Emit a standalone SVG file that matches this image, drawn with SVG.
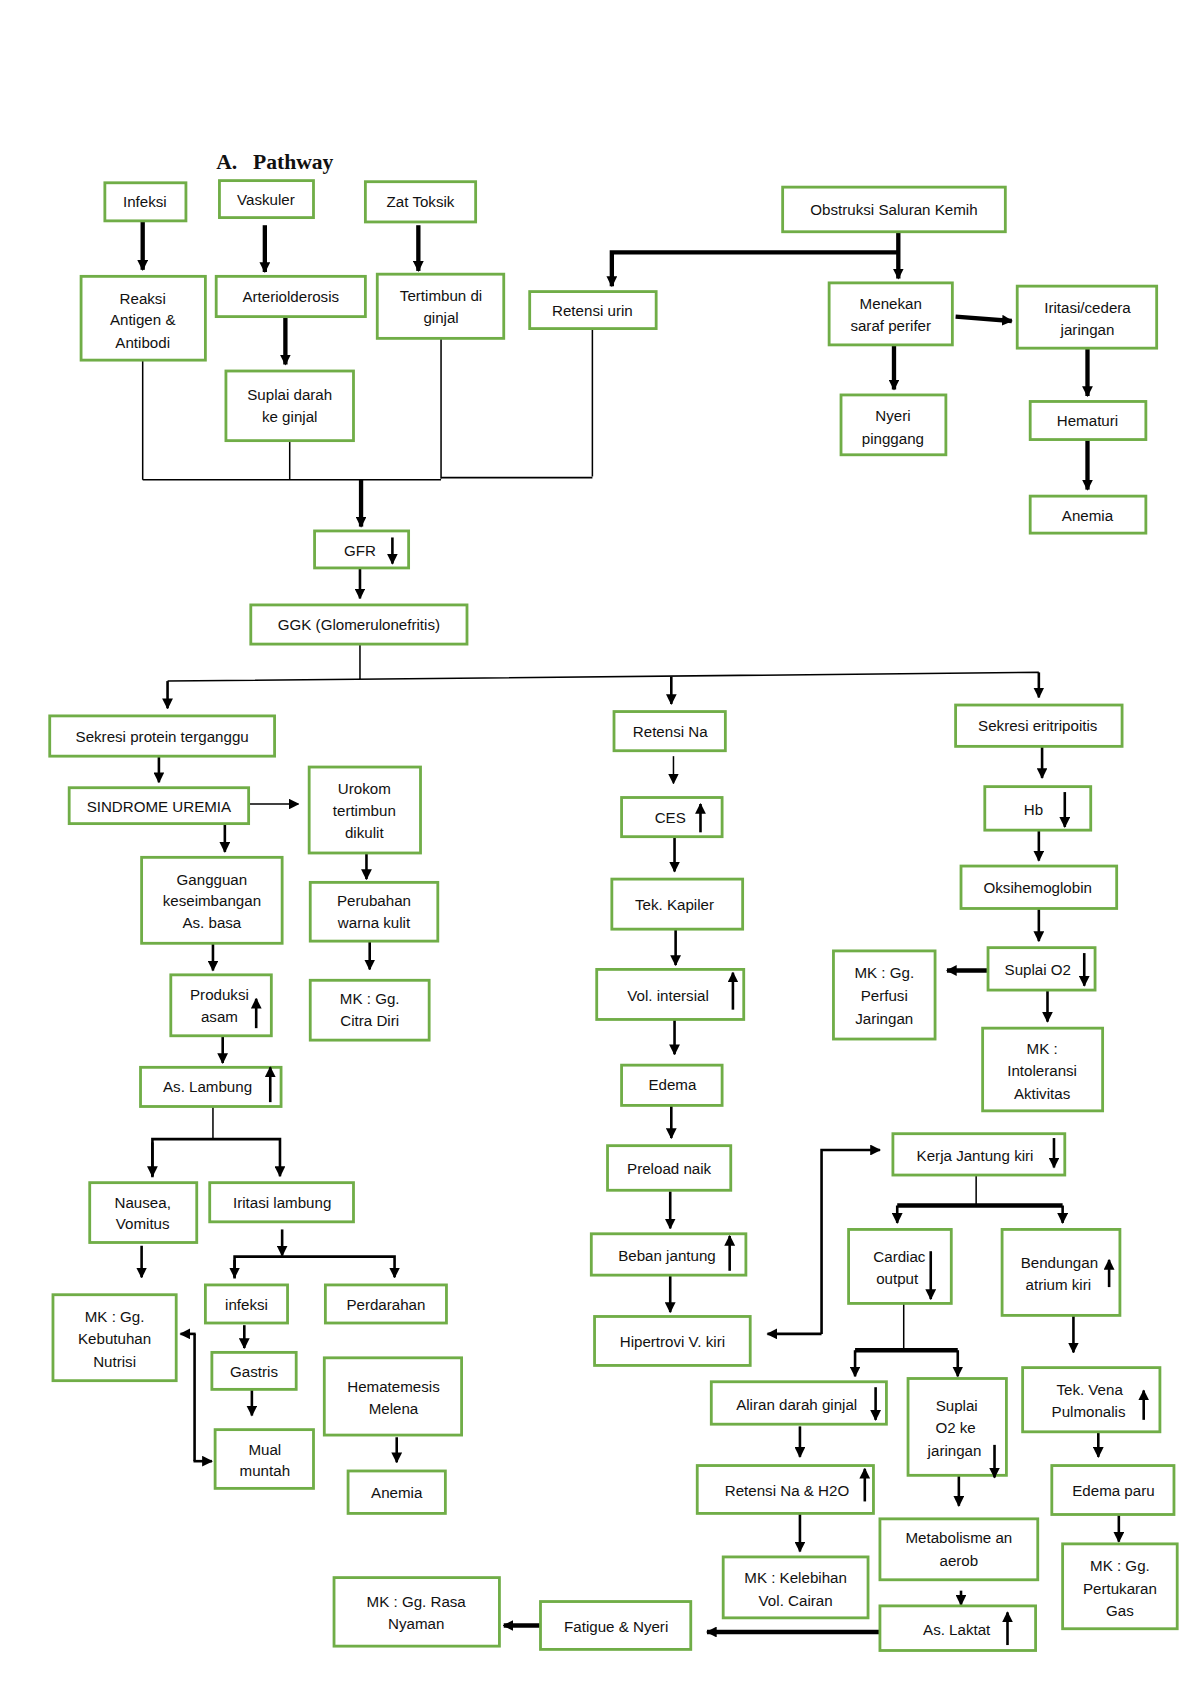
<svg xmlns="http://www.w3.org/2000/svg" width="1200" height="1698" viewBox="0 0 1200 1698">
<style>
.b{fill:#fff;stroke:#70ad47;stroke-width:2.6}
text{font-family:"Liberation Sans",Arial,sans-serif;font-size:14px;fill:#111;text-anchor:middle}
.t{stroke:#000;stroke-width:1.4;fill:none}
.m{stroke:#000;stroke-width:2.4;fill:none}
.k{stroke:#000;stroke-width:4;fill:none}
</style>
<defs>
<marker id="h" viewBox="0 0 10 10" refX="9" refY="5" markerWidth="10" markerHeight="10" markerUnits="userSpaceOnUse" orient="auto"><path d="M0,0L10,5L0,10z"/></marker>
</defs>
<rect width="1200" height="1698" fill="#fff"/>
<g transform="scale(1.081 1.088)">
<text x="200" y="155" style="font-family:'Liberation Serif',serif;font-size:20px;font-weight:bold;text-anchor:start">A.</text>
<text x="234" y="155" style="font-family:'Liberation Serif',serif;font-size:20px;font-weight:bold;text-anchor:start">Pathway</text>
<g id="connectors">
<path class="k" d="M132 203V248" marker-end="url(#h)"/>
<path class="k" d="M245 207V250" marker-end="url(#h)"/>
<path class="k" d="M387 207V249" marker-end="url(#h)"/>
<path class="k" d="M264 291V335" marker-end="url(#h)"/>
<path class="k" d="M831 213V256" marker-end="url(#h)"/>
<path class="k" d="M831 232H566V263" marker-end="url(#h)"/>
<path class="k" d="M884 291L936 295" marker-end="url(#h)"/>
<path class="k" d="M827 317V358" marker-end="url(#h)"/>
<path class="k" d="M1006 320V364" marker-end="url(#h)"/>
<path class="k" d="M1006 404V450" marker-end="url(#h)"/>
<path class="t" d="M132 331V441M268 405V441M408 311V440M548 302V438M132 441H408M408 439H548"/>
<path class="k" d="M334 441V484" marker-end="url(#h)"/>
<path class="m" d="M333 522V550" marker-end="url(#h)"/>
<path class="t" d="M333 592V624M155 626L961 618"/>
<path class="m" d="M155 626V651" marker-end="url(#h)"/>
<path class="m" d="M621 622V647" marker-end="url(#h)"/>
<path class="m" d="M961 618V641" marker-end="url(#h)"/>
<path class="m" d="M147 695V719" marker-end="url(#h)"/>
<path class="t" d="M230 739H276" marker-end="url(#h)"/>
<path class="m" d="M208 757V783" marker-end="url(#h)"/>
<path class="m" d="M339 784V808" marker-end="url(#h)"/>
<path class="m" d="M197 867V892" marker-end="url(#h)"/>
<path class="m" d="M342 865V891" marker-end="url(#h)"/>
<path class="m" d="M206 952V977" marker-end="url(#h)"/>
<path class="t" d="M197 1017V1047"/>
<path class="m" d="M141 1082V1047H259V1081" marker-end="url(#h)"/>
<path class="m" d="M141 1050V1081" marker-end="url(#h)"/>
<path class="m" d="M131 1145V1174" marker-end="url(#h)"/>
<path class="m" d="M261 1130V1154" marker-end="url(#h)"/>
<path class="m" d="M217 1175V1155H365V1174" marker-end="url(#h)"/>
<path class="m" d="M217 1158V1174" marker-end="url(#h)"/>
<path class="m" d="M226 1218V1239" marker-end="url(#h)"/>
<path class="m" d="M233 1277V1301" marker-end="url(#h)"/>
<path class="m" d="M367 1321V1344" marker-end="url(#h)"/>
<path class="m" d="M180 1226V1343"/>
<path class="m" d="M181 1226H167" marker-end="url(#h)"/>
<path class="m" d="M179 1343H196" marker-end="url(#h)"/>
<path class="t" d="M623 695V720" marker-end="url(#h)"/>
<path class="m" d="M624 769V801" marker-end="url(#h)"/>
<path class="m" d="M625 854V887" marker-end="url(#h)"/>
<path class="m" d="M624 937V969" marker-end="url(#h)"/>
<path class="m" d="M621 1016V1046" marker-end="url(#h)"/>
<path class="m" d="M620 1095V1129" marker-end="url(#h)"/>
<path class="m" d="M620 1172V1206" marker-end="url(#h)"/>
<path class="m" d="M964 686V715" marker-end="url(#h)"/>
<path class="m" d="M961 763V791" marker-end="url(#h)"/>
<path class="m" d="M961 835V865" marker-end="url(#h)"/>
<path class="m" d="M969 910V939" marker-end="url(#h)"/>
<path class="k" d="M913 892H876" marker-end="url(#h)"/>
<path class="m" d="M760 1226H710" marker-end="url(#h)"/>
<path class="m" d="M760 1226V1057H814" marker-end="url(#h)"/>
<path class="t" d="M903 1080V1108"/>
<path class="k" d="M830 1108H983"/>
<path class="m" d="M830 1108V1124" marker-end="url(#h)"/>
<path class="m" d="M983 1108V1124" marker-end="url(#h)"/>
<path class="t" d="M836 1198V1241"/>
<path class="k" d="M791 1241H886"/>
<path class="m" d="M791 1241V1265" marker-end="url(#h)"/>
<path class="m" d="M886 1241V1265" marker-end="url(#h)"/>
<path class="m" d="M993 1209V1243" marker-end="url(#h)"/>
<path class="m" d="M740 1311V1339" marker-end="url(#h)"/>
<path class="m" d="M887 1355V1384" marker-end="url(#h)"/>
<path class="m" d="M1016 1316V1339" marker-end="url(#h)"/>
<path class="m" d="M740 1391V1426" marker-end="url(#h)"/>
<path class="m" d="M889 1462V1475" marker-end="url(#h)"/>
<path class="m" d="M1035 1392V1417" marker-end="url(#h)"/>
<path class="k" d="M814 1500H654" marker-end="url(#h)"/>
<path class="k" d="M500 1494H466" marker-end="url(#h)"/>
</g>
<g id="n1"><rect class="b" x="97" y="168" width="75" height="35"/><text x="134" y="190">Infeksi</text></g>
<g id="n2"><rect class="b" x="203" y="166" width="87" height="34"/><text x="246" y="188">Vaskuler</text></g>
<g id="n3"><rect class="b" x="338" y="167" width="102" height="37"/><text x="389" y="190">Zat Toksik</text></g>
<g id="n4"><rect class="b" x="724" y="172" width="206" height="41"/><text x="827" y="198">Obstruksi Saluran Kemih</text></g>
<g id="n5"><rect class="b" x="75" y="254" width="115" height="77"/><text x="132" y="279">Reaksi</text><text x="132" y="299">Antigen &amp;</text><text x="132" y="320">Antibodi</text></g>
<g id="n6"><rect class="b" x="200" y="254" width="138" height="37"/><text x="269" y="278">Arteriolderosis</text></g>
<g id="n7"><rect class="b" x="349" y="252" width="117" height="59"/><text x="408" y="277">Tertimbun di</text><text x="408" y="297">ginjal</text></g>
<g id="n8"><rect class="b" x="490" y="268" width="117" height="34"/><text x="548" y="290">Retensi urin</text></g>
<g id="n9"><rect class="b" x="767" y="260" width="114" height="57"/><text x="824" y="284">Menekan</text><text x="824" y="304">saraf perifer</text></g>
<g id="n10"><rect class="b" x="941" y="263" width="129" height="57"/><text x="1006" y="288">Iritasi/cedera</text><text x="1006" y="308">jaringan</text></g>
<g id="n11"><rect class="b" x="209" y="341" width="118" height="64"/><text x="268" y="368">Suplai darah</text><text x="268" y="388">ke ginjal</text></g>
<g id="n12"><rect class="b" x="778" y="363" width="97" height="55"/><text x="826" y="387">Nyeri</text><text x="826" y="408">pinggang</text></g>
<g id="n13"><rect class="b" x="953" y="369" width="107" height="35"/><text x="1006" y="392">Hematuri</text></g>
<g id="n14"><rect class="b" x="953" y="456" width="107" height="34"/><text x="1006" y="479">Anemia</text></g>
<g id="n15"><rect class="b" x="291" y="488" width="87" height="34"/><text x="333" y="511">GFR</text></g>
<g id="n16"><rect class="b" x="232" y="556" width="200" height="36"/><text x="332" y="579">GGK (Glomerulonefritis)</text></g>
<g id="n17"><rect class="b" x="46" y="658" width="208" height="37"/><text x="150" y="682">Sekresi protein terganggu</text></g>
<g id="n18"><rect class="b" x="64" y="724" width="166" height="33"/><text x="147" y="746">SINDROME UREMIA</text></g>
<g id="n19"><rect class="b" x="286" y="705" width="103" height="79"/><text x="337" y="730">Urokom</text><text x="337" y="750">tertimbun</text><text x="337" y="770">dikulit</text></g>
<g id="n20"><rect class="b" x="131" y="788" width="130" height="79"/><text x="196" y="813">Gangguan</text><text x="196" y="833">keseimbangan</text><text x="196" y="853">As. basa</text></g>
<g id="n21"><rect class="b" x="287" y="811" width="118" height="54"/><text x="346" y="833">Perubahan</text><text x="346" y="853">warna kulit</text></g>
<g id="n22"><rect class="b" x="158" y="896" width="93" height="56"/><text x="203" y="919">Produksi</text><text x="203" y="939">asam</text></g>
<g id="n23"><rect class="b" x="287" y="901" width="110" height="55"/><text x="342" y="923">MK : Gg.</text><text x="342" y="943">Citra Diri</text></g>
<g id="n24"><rect class="b" x="130" y="981" width="130" height="36"/><text x="192" y="1004">As. Lambung</text></g>
<g id="n25"><rect class="b" x="83" y="1087" width="99" height="55"/><text x="132" y="1110">Nausea,</text><text x="132" y="1130">Vomitus</text></g>
<g id="n26"><rect class="b" x="194" y="1087" width="133" height="36"/><text x="261" y="1110">Iritasi lambung</text></g>
<g id="n27"><rect class="b" x="49" y="1190" width="114" height="79"/><text x="106" y="1215">MK : Gg.</text><text x="106" y="1235">Kebutuhan</text><text x="106" y="1256">Nutrisi</text></g>
<g id="n28"><rect class="b" x="190" y="1181" width="76" height="35"/><text x="228" y="1204">infeksi</text></g>
<g id="n29"><rect class="b" x="301" y="1181" width="112" height="35"/><text x="357" y="1204">Perdarahan</text></g>
<g id="n30"><rect class="b" x="196" y="1243" width="78" height="34"/><text x="235" y="1266">Gastris</text></g>
<g id="n31"><rect class="b" x="300" y="1248" width="127" height="71"/><text x="364" y="1279">Hematemesis</text><text x="364" y="1300">Melena</text></g>
<g id="n32"><rect class="b" x="199" y="1314" width="91" height="54"/><text x="245" y="1337">Mual</text><text x="245" y="1357">muntah</text></g>
<g id="n33"><rect class="b" x="322" y="1352" width="90" height="39"/><text x="367" y="1377">Anemia</text></g>
<g id="n34"><rect class="b" x="568" y="654" width="103" height="36"/><text x="620" y="677">Retensi Na</text></g>
<g id="n35"><rect class="b" x="575" y="733" width="93" height="36"/><text x="620" y="756">CES</text></g>
<g id="n36"><rect class="b" x="566" y="808" width="121" height="46"/><text x="624" y="836">Tek. Kapiler</text></g>
<g id="n37"><rect class="b" x="552" y="891" width="136" height="46"/><text x="618" y="920">Vol. intersial</text></g>
<g id="n38"><rect class="b" x="575" y="979" width="93" height="37"/><text x="622" y="1002">Edema</text></g>
<g id="n39"><rect class="b" x="562" y="1053" width="114" height="41"/><text x="619" y="1079">Preload naik</text></g>
<g id="n40"><rect class="b" x="547" y="1134" width="143" height="38"/><text x="617" y="1159">Beban jantung</text></g>
<g id="n41"><rect class="b" x="550" y="1210" width="144" height="45"/><text x="622" y="1238">Hipertrovi V. kiri</text></g>
<g id="n42"><rect class="b" x="884" y="648" width="154" height="38"/><text x="960" y="672">Sekresi eritripoitis</text></g>
<g id="n43"><rect class="b" x="911" y="723" width="98" height="40"/><text x="956" y="749">Hb</text></g>
<g id="n44"><rect class="b" x="889" y="796" width="144" height="39"/><text x="960" y="821">Oksihemoglobin</text></g>
<g id="n45"><rect class="b" x="914" y="871" width="99" height="39"/><text x="960" y="896">Suplai O2</text></g>
<g id="n46"><rect class="b" x="771" y="874" width="94" height="81"/><text x="818" y="899">MK : Gg.</text><text x="818" y="920">Perfusi</text><text x="818" y="941">Jaringan</text></g>
<g id="n47"><rect class="b" x="909" y="945" width="111" height="76"/><text x="964" y="969">MK :</text><text x="964" y="989">Intoleransi</text><text x="964" y="1010">Aktivitas</text></g>
<g id="n48"><rect class="b" x="826" y="1042" width="159" height="38"/><text x="902" y="1067">Kerja Jantung kiri</text></g>
<g id="n49"><rect class="b" x="785" y="1130" width="95" height="68"/><text x="832" y="1160">Cardiac</text><text x="830" y="1180">output</text></g>
<g id="n50"><rect class="b" x="927" y="1130" width="109" height="79"/><text x="980" y="1165">Bendungan</text><text x="979" y="1186">atrium kiri</text></g>
<g id="n51"><rect class="b" x="658" y="1270" width="162" height="39"/><text x="737" y="1296">Aliran darah ginjal</text></g>
<g id="n52"><rect class="b" x="840" y="1267" width="91" height="89"/><text x="885" y="1297">Suplai</text><text x="884" y="1317">O2 ke</text><text x="883" y="1338">jaringan</text></g>
<g id="n53"><rect class="b" x="946" y="1257" width="127" height="59"/><text x="1008" y="1282">Tek. Vena</text><text x="1007" y="1302">Pulmonalis</text></g>
<g id="n54"><rect class="b" x="645" y="1347" width="163" height="44"/><text x="728" y="1375">Retensi Na &amp; H2O</text></g>
<g id="n55"><rect class="b" x="814" y="1396" width="146" height="56"/><text x="887" y="1418">Metabolisme an</text><text x="887" y="1439">aerob</text></g>
<g id="n56"><rect class="b" x="973" y="1347" width="113" height="45"/><text x="1030" y="1375">Edema paru</text></g>
<g id="n57"><rect class="b" x="669" y="1431" width="134" height="56"/><text x="736" y="1455">MK : Kelebihan</text><text x="736" y="1476">Vol. Cairan</text></g>
<g id="n58"><rect class="b" x="814" y="1476" width="144" height="41"/><text x="885" y="1503">As. Laktat</text></g>
<g id="n59"><rect class="b" x="983" y="1419" width="106" height="78"/><text x="1036" y="1444">MK : Gg.</text><text x="1036" y="1465">Pertukaran</text><text x="1036" y="1485">Gas</text></g>
<g id="n60"><rect class="b" x="500" y="1472" width="139" height="44"/><text x="570" y="1500">Fatigue &amp; Nyeri</text></g>
<g id="n61"><rect class="b" x="309" y="1450" width="153" height="63"/><text x="385" y="1477">MK : Gg. Rasa</text><text x="385" y="1497">Nyaman</text></g>
<g id="glyphs" class="m">
<path d="M363 494V518" marker-end="url(#h)"/><path d="M648 765V739" marker-end="url(#h)"/>
<path d="M678 928V894" marker-end="url(#h)"/><path d="M675 1168V1136" marker-end="url(#h)"/>
<path d="M985 728V760" marker-end="url(#h)"/><path d="M1003 876V906" marker-end="url(#h)"/>
<path d="M975 1046V1073" marker-end="url(#h)"/><path d="M861 1150V1194" marker-end="url(#h)"/>
<path d="M1026 1183V1158" marker-end="url(#h)"/><path d="M810 1275V1305" marker-end="url(#h)"/>
<path d="M920 1328V1358" marker-end="url(#h)"/><path d="M1058 1305V1278" marker-end="url(#h)"/>
<path d="M800 1380V1350" marker-end="url(#h)"/><path d="M932 1512V1482" marker-end="url(#h)"/>
<path d="M237 945V918" marker-end="url(#h)"/><path d="M250 1013V981" marker-end="url(#h)"/>
</g>
</g>
</svg>
